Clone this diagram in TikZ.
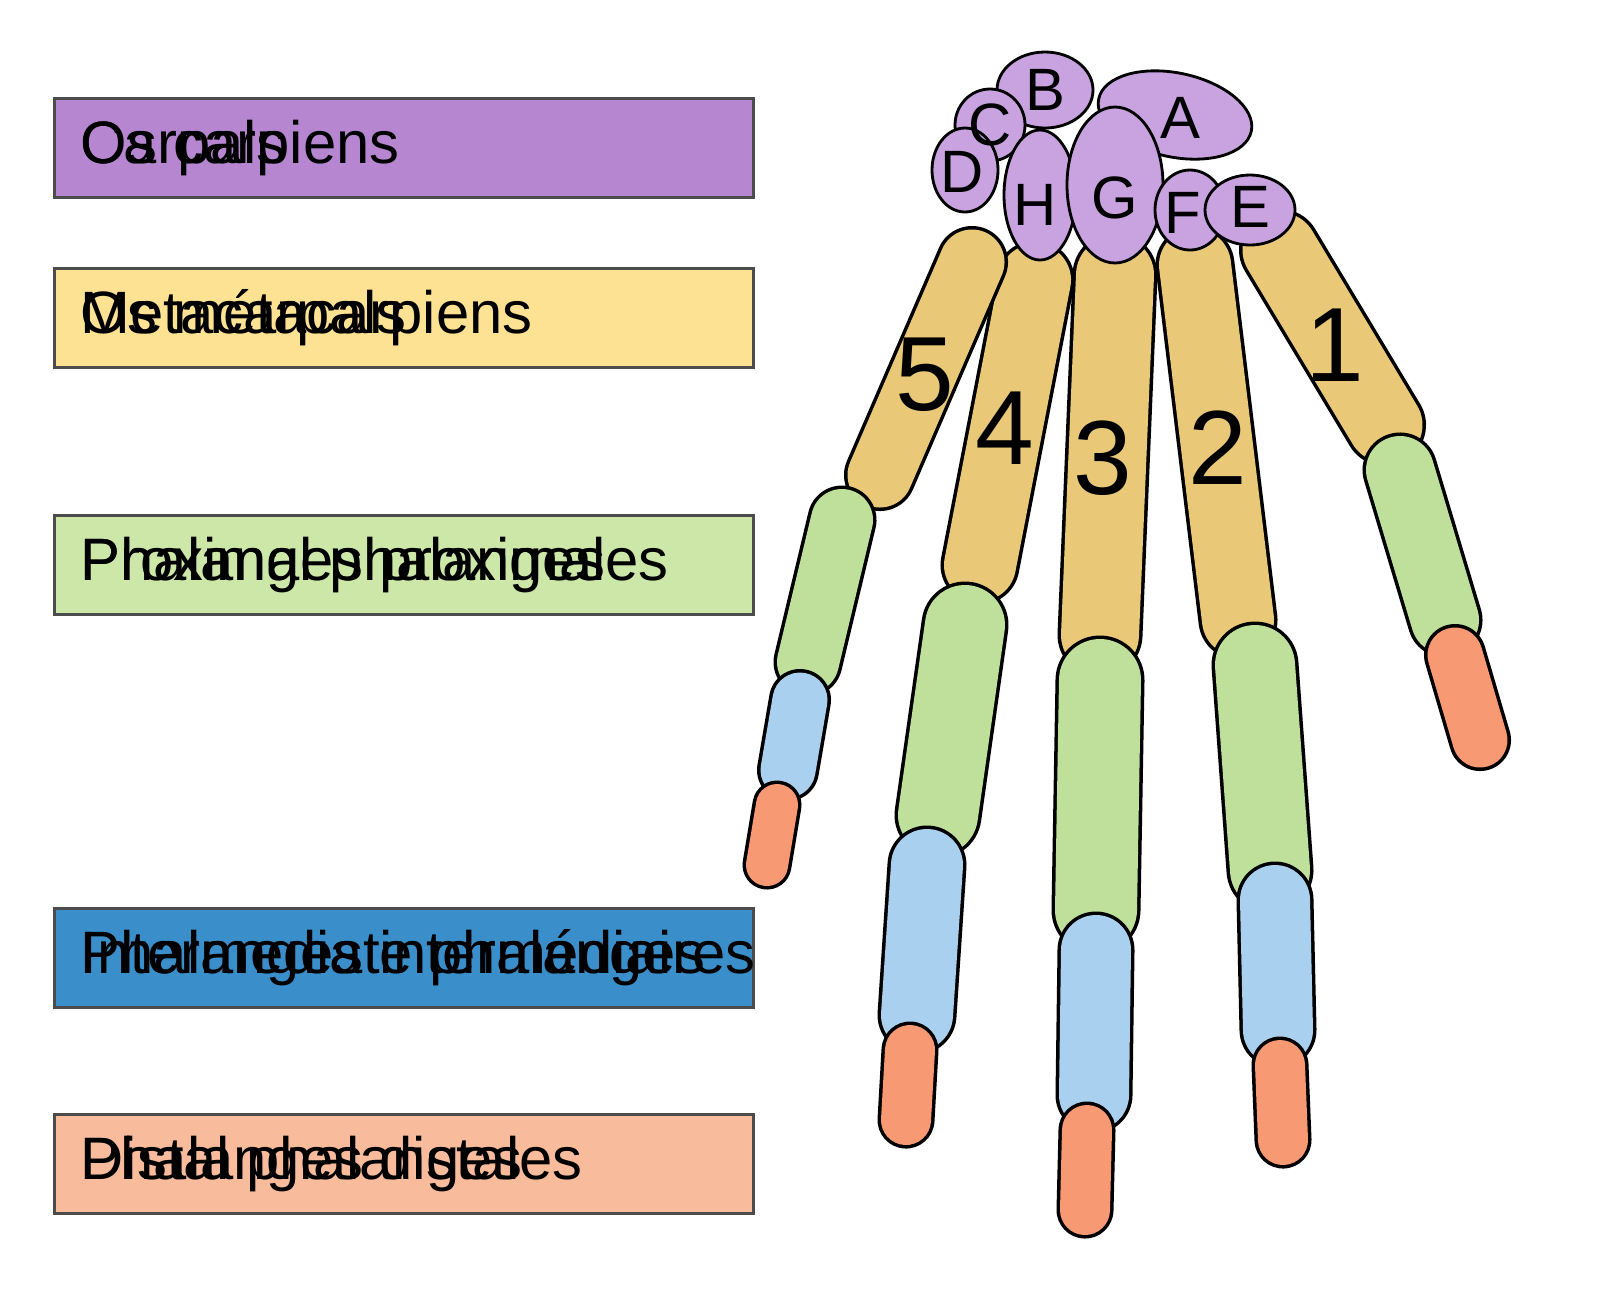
\documentclass[tikz,border=0pt]{standalone}
\usepackage{fontspec}
\setmainfont{Liberation Sans}
\definecolor{carpbox}{HTML}{B686D0}
\definecolor{metabox}{HTML}{FDE293}
\definecolor{proxbox}{HTML}{CCE7A8}
\definecolor{interbox}{HTML}{3A8FCB}
\definecolor{distbox}{HTML}{F8BC9C}
\definecolor{carpbone}{HTML}{C9A2E0}
\definecolor{metabone}{HTML}{E9C878}
\definecolor{proxbone}{HTML}{BFE09A}
\definecolor{interbone}{HTML}{A9D0EE}
\definecolor{distbone}{HTML}{F79A74}
\newcommand{\bone}[4]{%
  \draw[line width=#3*0.01cm+2pt,line cap=round,black] #1 -- #2;
  \draw[line width=#3*0.01cm,line cap=round,#4] #1 -- #2;}
\begin{document}
\begin{tikzpicture}[x=0.01cm,y=-0.01cm]
\useasboundingbox (0,0) rectangle (1600,1308);
\tikzstyle{legbox}=[draw=black!70,line width=0.8pt,minimum width=6.99cm,minimum height=0.99cm,inner sep=0pt,anchor=north west]
\tikzstyle{legtext}=[anchor=west,inner sep=0pt,font=\fontsize{17}{20}\selectfont]
\tikzstyle{carp}=[draw=black,line width=0.8pt,fill=carpbone]
\tikzstyle{carplabel}=[font=\fontsize{17}{20}\selectfont]
\tikzstyle{numlabel}=[font=\fontsize{30}{34}\selectfont]

% legend
\node[legbox,fill=carpbox] (bcarp) at (53,97) {};
\node[legbox,fill=metabox] (bmeta) at (53,267) {};
\node[legbox,fill=proxbox] (bprox) at (53,514) {};
\node[legbox,fill=interbox] (binter) at (53,907) {};
\node[legbox,fill=distbox] (bdist) at (53,1113) {};
\node[legtext] (tcarp1) at ([xshift=0.27cm]bcarp.west) {Carpals};
\node[legtext] (tcarp2) at ([xshift=0.27cm]bcarp.west) {Os carpiens};
\node[legtext] (tmeta1) at ([xshift=0.27cm]bmeta.west) {Metacarpals};
\node[legtext] (tmeta2) at ([xshift=0.27cm]bmeta.west) {Os métacarpiens};
\node[legtext] (tprox1) at ([xshift=0.27cm]bprox.west) {Proximal phalanges};
\node[legtext] (tprox2) at ([xshift=0.27cm]bprox.west) {Phalanges proximales};
\node[legtext] (tinter1) at ([xshift=0.27cm]binter.west) {Intermediate phalanges};
\node[legtext] (tinter2) at ([xshift=0.27cm]binter.west) {Phalanges intermédiaires};
\node[legtext] (tdist1) at ([xshift=0.27cm]bdist.west) {Distal phalanges};
\node[legtext] (tdist2) at ([xshift=0.27cm]bdist.west) {Phalanges distales};

% thumb
\bone{(1280,250)}{(1385,425)}{75}{metabone}
\bone{(1400,470)}{(1445,620)}{68}{proxbone}
\bone{(1455,655)}{(1480,740)}{55}{distbone}
% finger 2
\bone{(1195,265)}{(1238,620)}{72}{metabone}
\bone{(1255,665)}{(1270,870)}{80}{proxbone}
\bone{(1275,900)}{(1278,1030)}{70}{interbone}
\bone{(1280,1065)}{(1283,1140)}{50}{distbone}
% finger 3
\bone{(1115,275)}{(1100,635)}{78}{metabone}
\bone{(1100,680)}{(1096,910)}{82}{proxbone}
\bone{(1096,950)}{(1094,1095)}{70}{interbone}
\bone{(1087,1130)}{(1085,1210)}{50}{distbone}
% finger 4
\bone{(1035,280)}{(980,565)}{72}{metabone}
\bone{(965,625)}{(938,815)}{80}{proxbone}
\bone{(927,865)}{(917,1015)}{72}{interbone}
\bone{(910,1050)}{(906,1120)}{50}{distbone}
% finger 5
\bone{(972,262)}{(880,475)}{65}{metabone}
\bone{(842,520)}{(808,662)}{62}{proxbone}
\bone{(800,700)}{(788,770)}{55}{interbone}
\bone{(777,805)}{(767,865)}{42}{distbone}

% carpals
\draw[carp,rotate around={-12:(1175,115)}] (1175,115) ellipse [x radius=78,y radius=42];
\draw[carp] (1045,90) ellipse [x radius=48,y radius=38];
\draw[carp] (990,125) ellipse [x radius=35,y radius=36];
\draw[carp] (965,170) ellipse [x radius=33,y radius=42];
\draw[carp] (1040,195) ellipse [x radius=36,y radius=65];
\draw[carp] (1115,185) ellipse [x radius=48,y radius=78];
\draw[carp] (1190,210) ellipse [x radius=35,y radius=40];
\draw[carp] (1250,210) ellipse [x radius=45,y radius=35];
\node[carplabel] (cA) at (1180,118) {A};
\node[carplabel] (cB) at (1045,90) {B};
\node[carplabel] (cC) at (990,125) {C};
\node[carplabel] (cD) at (962,172) {D};
\node[carplabel] (cH) at (1035,205) {H};
\node[carplabel] (cG) at (1115,198) {G};
\node[carplabel] (cF) at (1183,213) {F};
\node[carplabel] (cE) at (1250,207) {E};

% metacarpal numbers
\node[numlabel] (n1) at (1335,345) {1};
\node[numlabel] (n2) at (1218,448) {2};
\node[numlabel] (n3) at (1103,458) {3};
\node[numlabel] (n4) at (1005,428) {4};
\node[numlabel] (n5) at (925,375) {5};
\end{tikzpicture}
\end{document}
